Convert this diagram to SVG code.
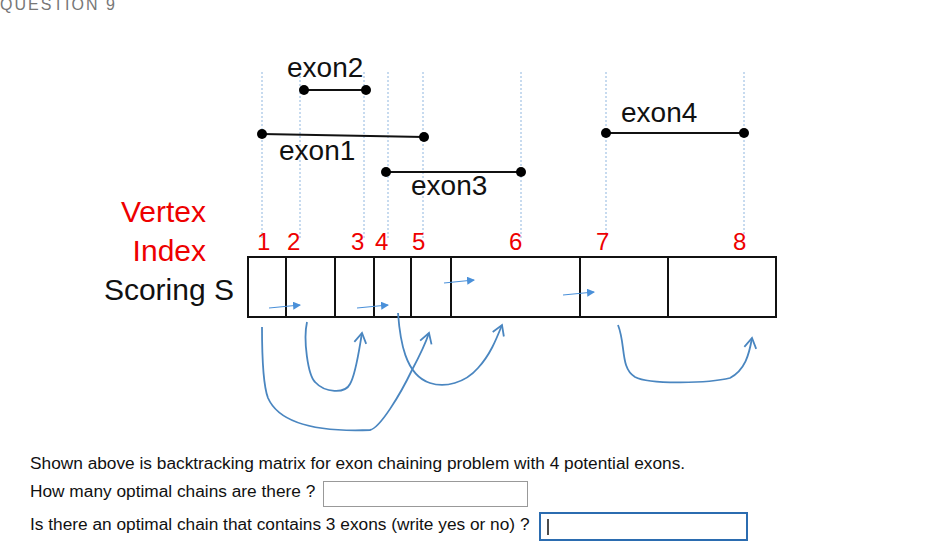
<svg xmlns="http://www.w3.org/2000/svg" width="950" height="557" viewBox="0 0 950 557">
<defs>
<style>
.t{font-family:"Liberation Sans",Arial,sans-serif}
.ex{font-size:28px;fill:#111}
.num{font-size:24px;fill:#e00}
.lab{font-size:30px}
.q{font-size:17.3px;fill:#111}
.g{stroke:#8fb6df;stroke-width:1;stroke-dasharray:2,2}
.seg{stroke:#111;stroke-width:2}
.c{fill:none;stroke:#4a86c0;stroke-width:1.8}
</style>
<marker id="ah" markerWidth="8" markerHeight="8" refX="7" refY="4" orient="auto" markerUnits="userSpaceOnUse" viewBox="0 0 8 8"><path d="M0,0 L8,4 L0,8 Z" fill="#4a90d9"/></marker>
<marker id="va" markerWidth="14" markerHeight="14" refX="12" refY="7" orient="auto" markerUnits="userSpaceOnUse" viewBox="0 0 14 14"><path d="M2,1 L12,7 L2,13" fill="none" stroke="#4a86c0" stroke-width="1.8"/></marker>
</defs>
<rect width="950" height="557" fill="#fff"/>
<text class="t" x="0" y="10" font-size="16" fill="#777" letter-spacing="2">QUESTION 9</text>
<g id="guides">
<line class="g" x1="262" y1="72" x2="262" y2="240"/>
<line class="g" x1="300" y1="72" x2="300" y2="240"/>
<line class="g" x1="364" y1="72" x2="364" y2="240"/>
<line class="g" x1="388" y1="72" x2="388" y2="240"/>
<line class="g" x1="423" y1="72" x2="423" y2="240"/>
<line class="g" x1="521" y1="72" x2="521" y2="240"/>
<line class="g" x1="606" y1="72" x2="606" y2="240"/>
<line class="g" x1="744" y1="72" x2="744" y2="240"/>
</g>
<g id="exon2"><line class="seg" x1="304" y1="90" x2="366" y2="90"/><circle cx="304" cy="90" r="5"/><circle cx="366" cy="90" r="5"/><text class="t ex" x="287" y="77">exon2</text></g>
<g id="exon1"><line class="seg" x1="262" y1="134" x2="424" y2="137"/><circle cx="262" cy="134" r="5"/><circle cx="424" cy="137" r="5"/><text class="t ex" x="279" y="160">exon1</text></g>
<g id="exon3"><line class="seg" x1="386" y1="172" x2="521" y2="172"/><circle cx="386" cy="172" r="5"/><circle cx="521" cy="172" r="5"/><text class="t ex" x="411" y="195">exon3</text></g>
<g id="exon4"><line class="seg" x1="606" y1="133" x2="744" y2="133"/><circle cx="606" cy="133" r="5"/><circle cx="744" cy="133" r="5"/><text class="t ex" x="621" y="122">exon4</text></g>
<g id="labels">
<text class="t lab" x="206" y="222" text-anchor="end" fill="#e00">Vertex</text>
<text class="t lab" x="206" y="261" text-anchor="end" fill="#e00">Index</text>
<text class="t lab" x="234" y="300" text-anchor="end" fill="#111">Scoring S</text>
<text class="t num" x="257" y="250">1</text><text class="t num" x="287" y="250">2</text>
<text class="t num" x="351" y="250">3</text><text class="t num" x="375" y="250">4</text><text class="t num" x="412" y="250">5</text>
<text class="t num" x="509" y="250">6</text><text class="t num" x="596" y="250">7</text><text class="t num" x="733" y="250">8</text>
</g>
<g id="matrix" fill="none" stroke="#111" stroke-width="2">
<rect x="248" y="257" width="528" height="60"/>
<line x1="286" y1="257" x2="286" y2="317"/><line x1="335" y1="257" x2="335" y2="317"/>
<line x1="374" y1="257" x2="374" y2="317"/><line x1="411" y1="257" x2="411" y2="317"/>
<line x1="451" y1="257" x2="451" y2="317"/><line x1="580" y1="257" x2="580" y2="317"/>
<line x1="668" y1="257" x2="668" y2="317"/>
</g>
<g id="connectors">
<line x1="269" y1="308" x2="300" y2="305" stroke="#4a90d9" stroke-width="1.2" marker-end="url(#ah)"/>
<line x1="357" y1="308" x2="388" y2="305" stroke="#4a90d9" stroke-width="1.2" marker-end="url(#ah)"/>
<line x1="444" y1="283" x2="474" y2="280" stroke="#4a90d9" stroke-width="1.2" marker-end="url(#ah)"/>
<line x1="563" y1="295" x2="594" y2="292" stroke="#4a90d9" stroke-width="1.2" marker-end="url(#ah)"/>
<path class="c" d="M262,327 C262,350 263,385 268,398 C280,425 320,432 370,430 C380,428 400,395 412,370 C420,355 425,345 429,333" marker-end="url(#va)"/>
<path class="c" d="M307,322 C303,340 308,375 315,382 C325,393 345,394 350,384 C356,374 359,350 362,333" marker-end="url(#va)"/>
<path class="c" d="M398,313 C400,340 405,375 430,383 C445,388 465,383 478,368 C490,355 496,340 502,325" marker-end="url(#va)"/>
<path class="c" d="M618,325 C626,345 620,368 635,377 C650,385 710,383 730,378 C745,370 749,355 752,338" marker-end="url(#va)"/>
</g>
<g id="question">
<text class="t q" x="30" y="469">Shown above is backtracking matrix for exon chaining problem with 4 potential exons.</text>
<text class="t q" x="30" y="497">How many optimal chains are there ?</text>
<rect x="323.5" y="481.5" width="204" height="25" fill="#fff" stroke="#999"/>
<text class="t q" x="30" y="530">Is there an optimal chain that contains 3 exons (write yes or no) ?</text>
<rect x="540" y="513" width="207" height="27" fill="#fff" stroke="#2b6cb0" stroke-width="2"/>
<line x1="548" y1="519" x2="548" y2="535" stroke="#111" stroke-width="1.5"/>
</g>
</svg>
